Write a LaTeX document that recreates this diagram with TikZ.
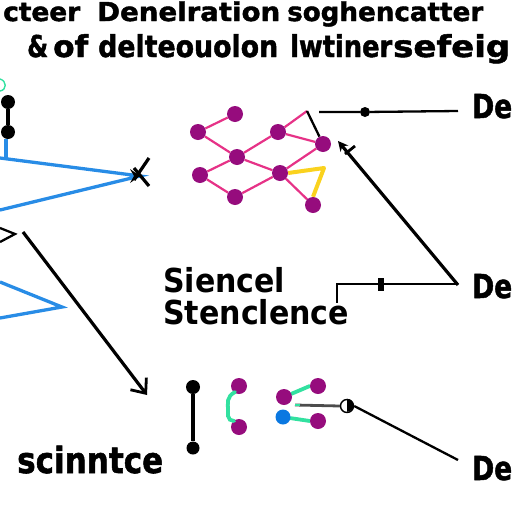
\documentclass[tikz,border=0pt]{standalone}
\usepackage{fontspec}
\setmainfont{DejaVu Sans}
\newfontfamily\heavyfont[FakeBold=1.6]{DejaVu Sans Bold}
\usetikzlibrary{arrows.meta,backgrounds}
\definecolor{mag}{RGB}{150,12,125}
\definecolor{pinkedge}{RGB}{230,50,135}
\definecolor{lblue}{RGB}{40,140,230}
\definecolor{yel}{RGB}{250,210,30}
\definecolor{tealc}{RGB}{50,225,160}
\definecolor{dotblue}{RGB}{10,120,225}
\newcommand{\fitw}[3]{\resizebox{#1pt}{\height}{\fontsize{#2}{#2}\selectfont\bfseries #3}}
\newcommand{\fith}[3]{\resizebox{#1pt}{\height}{\fontsize{#2}{#2}\selectfont\heavyfont #3}}
\begin{document}
\begin{tikzpicture}[x=1pt,y=-1pt,
  word/.style={inner sep=0pt, anchor=base west},
  mnode/.style={circle, fill=mag, minimum size=16pt, inner sep=0pt},
  knode/.style={circle, fill=black, minimum size=14pt, inner sep=0pt},
  pedge/.style={draw=pinkedge, line width=2.2pt},
  bline/.style={draw=lblue, line width=3.3pt},
  kline/.style={draw=black, line width=3.2pt},
  thin/.style={draw=black, line width=2.3pt},
  tline/.style={draw=tealc, line width=3.8pt, line cap=round}]
\useasboundingbox (0,0) rectangle (512,512);
% title
\node[word] (w1) at (3,21) {\fith{77}{26}{cteer}};
\node[word] (w2) at (97,21) {\fith{183}{26}{Denelration}};
\node[word] (w3) at (287,21) {\fith{196}{26}{soghencatter}};
\node[word] (w4) at (27,57) {\fith{21}{30}{\&}};
\node[word] (w5) at (53,57) {\fith{35}{30}{of}};
\node[word] (w6) at (98,57) {\fith{180}{30}{delteouolon}};
\node[word] (w7) at (290,57) {\fith{102}{30}{lwtiner}};
\node[word] (w8) at (393,57) {\fith{117}{30}{sefeig}};
% left top
\draw[tealc, line width=1.4pt] (0,79) .. controls (7,81) and (7,90) .. (0,91);
\node[knode] (k1) at (8,102) {};
\node[knode] (k2) at (8,132) {};
\begin{scope}[on background layer]
\draw[kline] (k1) -- (k2);
\end{scope}
\coordinate (bl0) at (6,158);
\coordinate (bl1) at (0,158);
\coordinate (tip) at (140,176);
\coordinate (bl2) at (0,210);
\draw[bline] (k2.south -| bl0) -- (bl0);
\draw[bline] (bl1) -- (tip) -- (bl2);
\fill (tip) -- (130,169) -- (134,176) -- (130,183) -- cycle;
\draw[kline] (149,158) -- (134,180);
\draw[kline] (134,168) -- (149,186);
% left chevrons
\draw[thin] (0,228) -- (15,234) -- (0,242);
\draw[bline] (0,282) -- (62,307) -- (0,318);
% long left arrow
\coordinate (la0) at (23,232);
\coordinate (la1) at (147,395);
\draw[kline, -{Straight Barb[length=12pt,width=20pt,line width=2.8pt]}] (la0) -- (la1);
% molecule graph
\node[mnode] (a) at (235,114) {};
\node[mnode] (b) at (198,132) {};
\node[mnode] (c) at (278,132) {};
\node[mnode] (d) at (237,157) {};
\node[mnode] (e) at (323,144) {};
\node[mnode] (f) at (200,175) {};
\node[mnode] (g) at (280,173) {};
\node[mnode] (h) at (235,197) {};
\node[mnode] (i) at (313,205) {};
\coordinate (apex) at (307,111);
\coordinate (yc) at (324,168);
\begin{scope}[on background layer]
\draw[pedge] (a) -- (b);
\draw[pedge] (b) -- (d);
\draw[pedge] (d) -- (c);
\draw[pedge] (c) -- (apex);
\draw[pedge] (c) -- (e);
\draw[pedge] (d) -- (g);
\draw[pedge] (g) -- (e);
\draw[pedge] (d) -- (f);
\draw[pedge] (f) -- (h);
\draw[pedge] (h) -- (g);
\draw[pedge] (g) -- (i);
\draw[draw=yel, line width=4pt, line join=round] (g.east) -- (yc) -- (i.north);
\end{scope}
\draw[thin] (apex) -- (e);
% top-right connector
\coordinate (t1) at (319,112);
\node[circle, fill=black, minimum size=10pt, inner sep=0pt] (dot1) at (365,112) {};
\coordinate (t2) at (458,111);
\draw[thin] (t1) -- (dot1) -- (t2);
\node[word] (de1) at (472,118) {\fith{40}{33}{De}};
% middle-right connectors
\coordinate (m0) at (458,285);
\coordinate (m1) at (338,141);
\draw[kline, -{Stealth[length=10pt,width=10pt]}] (m0) -- (m1);
\draw[line width=2.8pt] (345,154) -- (355,146);
\coordinate (br0) at (458,284);
\coordinate (br1) at (337,284);
\coordinate (br2) at (337,303);
\draw[thin] (br0) -- (br1) -- (br2);
\fill (378,278) rectangle (384,291);
\node[word] (de2) at (472,298) {\fith{40}{33}{De}};
% middle text
\node[word] (s1) at (163,292) {\fitw{122}{33}{Siencel}};
\node[word] (s2) at (163,324) {\fitw{186}{33}{Stenclence}};
% bottom group
\node[knode] (k3) at (193,387) {};
\node[knode, minimum size=13pt] (k4) at (193,448) {};
\begin{scope}[on background layer]
\draw[kline, line width=3.4pt] (k3) -- (k4);
\end{scope}
\node[mnode] (p1) at (239,386) {};
\node[mnode] (p2) at (239,427) {};
\draw[tline] (235,392) .. controls (226,397) and (228,403) .. (228,410) -- (228,416) .. controls (228,419) and (231,421) .. (234,421);
\node[mnode] (q1) at (284,397) {};
\node[mnode] (q2) at (318,386) {};
\node[circle, fill=dotblue, minimum size=15pt, inner sep=0pt] (q3) at (283,417) {};
\node[mnode] (q4) at (318,421) {};
\begin{scope}[on background layer]
\draw[tline] (q1) -- (q2.west);
\draw[tline] (q3) -- (q4.west);
\end{scope}
\node[circle, draw=black, fill=white, line width=1.4pt, minimum size=13pt, inner sep=0pt] (ring) at (347,406) {};
\fill (ring.north) arc (90:-90:6.5pt) -- cycle;
\coordinate (g0) at (295,405);
\draw[draw=black!70, line width=2.8pt] (g0) -- (ring.west);
\draw[draw=tealc, line width=2.8pt] (g0) -- ++(5,0);
\coordinate (bt) at (458,460);
\draw[thin] (ring.east) -- (bt);
\node[word] (de3) at (472,480) {\fith{40}{33}{De}};
\node[word] (sc) at (17,473) {\fith{146}{36}{scinntce}};
\end{tikzpicture}
\end{document}
